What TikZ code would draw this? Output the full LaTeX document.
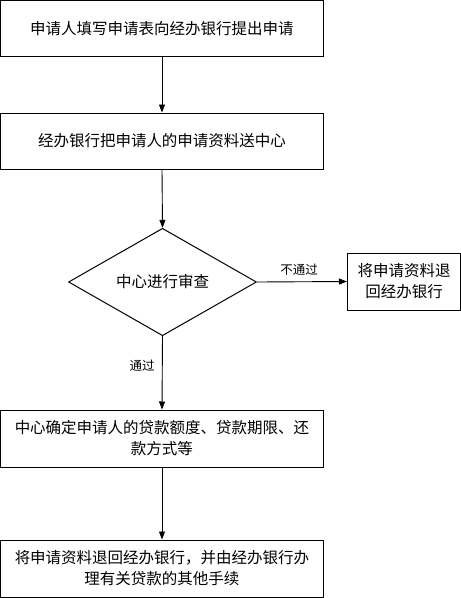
\documentclass[tikz,border=0pt]{standalone}
\usepackage{fontspec}
\setmainfont{Noto Sans CJK SC}
\usetikzlibrary{shapes.geometric,arrows.meta}
\begin{document}
\begin{tikzpicture}[x=1pt,y=-1pt,
  box/.style={draw=black,line width=1pt,inner sep=0pt,align=center,font=\fontsize{15.5}{21}\selectfont},
  decision/.style={draw=black,line width=1pt,diamond,inner sep=0pt,minimum width=188pt,minimum height=94pt,font=\fontsize{15.5}{21}\selectfont},
  conn/.style={draw=black,line width=0.9pt,-{Triangle[length=8pt,width=6pt]}},
  lbl/.style={font=\fontsize{12.5}{15}\selectfont,inner sep=0pt}]
\useasboundingbox (0,0) rectangle (461,598);
\fill[white] (0,0) rectangle (461,598);
\node[box,minimum width=323pt,minimum height=56pt] (b1) at (162,28.5) {申请人填写申请表向经办银行提出申请};
\node[box,minimum width=323pt,minimum height=56pt] (b2) at (162,141) {经办银行把申请人的申请资料送中心};
\node[decision] (d) at (162.5,282) {中心进行审查};
\node[box,minimum width=113pt,minimum height=57pt] (r) at (404,281.5) {将申请资料退\\回经办银行};
\node[box,minimum width=323pt,minimum height=57pt] (b3) at (162,438.5) {中心确定申请人的贷款额度、贷款期限、还\\款方式等};
\node[box,minimum width=323pt,minimum height=57pt] (b4) at (162,568.5) {将申请资料退回经办银行，并由经办银行办\\理有关贷款的其他手续};
\draw[conn] (b1.south) -- (b2.north);
\draw[conn] (b2.south) -- (d.north);
\draw[conn] (d.east) -- (r.west);
\draw[conn] (d.south) -- (b3.north);
\draw[conn] (b3.south) -- (b4.north);
\node[lbl] (l1) at (299,270) {不通过};
\node[lbl] (l2) at (142,366) {通过};
\end{tikzpicture}
\end{document}
